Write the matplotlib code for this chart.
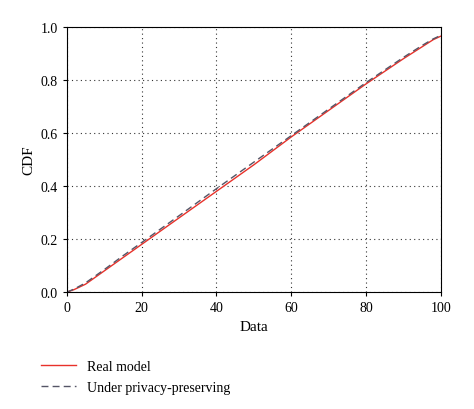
import matplotlib
matplotlib.use('Agg')
import matplotlib.pyplot as plt
from matplotlib.lines import Line2D

plt.rcParams['font.family'] = ['Liberation Serif', 'DejaVu Serif']

data_x = [0, 2, 5, 10, 15, 20, 30, 40, 50, 60, 70, 80, 90, 95, 98, 100]
real_cdf = [0.0, 0.01, 0.03, 0.08, 0.13, 0.18, 0.28, 0.38, 0.48, 0.585, 0.685, 0.785, 0.88, 0.925, 0.952, 0.965]
priv_cdf = [0.0, 0.012, 0.035, 0.085, 0.137, 0.187, 0.288, 0.39, 0.49, 0.59, 0.69, 0.79, 0.885, 0.93, 0.955, 0.968]

fig = plt.figure(figsize=(4.74, 4.10), dpi=100)
ax = fig.add_axes([0.141, 0.285, 0.789, 0.647])

ax.plot(data_x, real_cdf, color='#e8312a', linewidth=1.0)
ax.plot(data_x, priv_cdf, color='#555566', linewidth=1.0, linestyle=(0, (5, 3)))

ax.set_xlim(0, 100)
ax.set_ylim(0, 1.0)
ax.set_xticks([0, 20, 40, 60, 80, 100])
ax.set_yticks([0.0, 0.2, 0.4, 0.6, 0.8, 1.0])
ax.set_yticklabels(['0.0', '0.2', '0.4', '0.6', '0.8', '1.0'])
ax.grid(True, color='#333333', linestyle=(0, (1, 3)), linewidth=0.8)
ax.tick_params(labelsize=10, direction='out', length=3)
ax.set_xlabel('Data', fontsize=11)
ax.set_ylabel('CDF', fontsize=11)

handles = [Line2D([], [], color='#e8312a', linewidth=1.0),
           Line2D([], [], color='#555566', linewidth=1.0, linestyle=(0, (5, 3)))]
fig.legend(handles, ['Real model', 'Under privacy-preserving'],
           loc='upper left', bbox_to_anchor=(0.06, 0.15), frameon=False,
           fontsize=10, handlelength=2.5, labelspacing=0.6)

fig.savefig('out.png', dpi=100)
